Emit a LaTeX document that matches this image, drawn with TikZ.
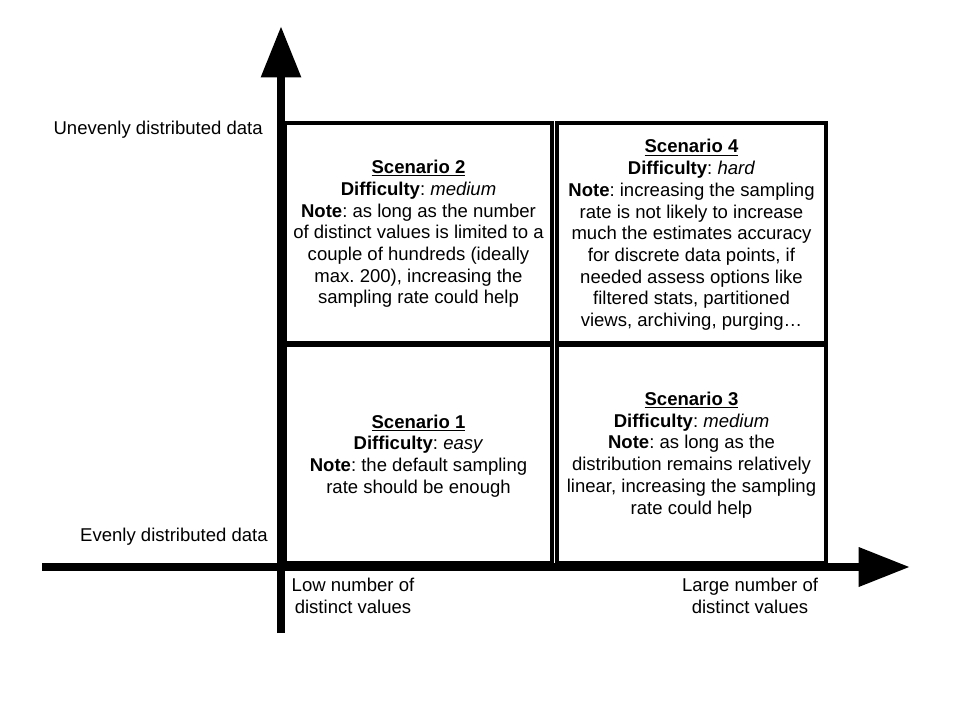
\documentclass[tikz,border=0pt]{standalone}
\usepackage{fontspec}
\setmainfont{Liberation Sans}
\usetikzlibrary{arrows.meta}
\frenchspacing
\begin{document}
\begin{tikzpicture}[x=0.75pt,y=-0.75pt,
  box/.style={draw=black,line width=3pt},
  axis/.style={line width=6.6pt,draw=black},
  txt/.style={align=center,inner sep=0pt,font={\fontsize{13.9pt}{16.3pt}\selectfont\frenchspacing}},
  lbl/.style={inner sep=0pt,font={\fontsize{13.9pt}{16.3pt}\selectfont\frenchspacing}}]
\useasboundingbox[fill=white] (0,0) rectangle (960,720);
% boxes
\draw[box] (285,123) rectangle (552,343);
\draw[box] (557,123) rectangle (826,343);
\draw[box] (285,345) rectangle (552,563);
\draw[box] (557,345) rectangle (826,563);
% axes
\coordinate (vbot) at (281,633);
\coordinate (vtop) at (281,26);
\coordinate (hleft) at (42,567);
\coordinate (hright) at (910,567);
\draw[axis,-{Triangle[length=38.5pt,width=28.5pt]}] (vbot) -- (vtop);
\draw[axis,-{Triangle[length=38.5pt,width=28pt]}] (hleft) -- (hright);
% scenario texts
\node[txt] (s2) at (418.5,234) {\underline{\textbf{Scenario 2}}\\\textbf{Difficulty}: \textit{medium}\\\textbf{Note}: as long as the number\\of distinct values is limited to a\\couple of hundreds (ideally\\max. 200), increasing the\\sampling rate could help};
\node[txt] (s4) at (691.5,235) {\underline{\textbf{Scenario 4}}\\\textbf{Difficulty}: \textit{hard}\\\textbf{Note}: increasing the sampling\\rate is not likely to increase\\much the estimates accuracy\\for discrete data points, if\\needed assess options like\\filtered stats, partitioned\\views, archiving, purging…};
\node[txt] (s1) at (418.5,456) {\underline{\textbf{Scenario 1}}\\\textbf{Difficulty}: \textit{easy}\\\textbf{Note}: the default sampling\\rate should be enough};
\node[txt] (s3) at (691.5,455) {\underline{\textbf{Scenario 3}}\\\textbf{Difficulty}: \textit{medium}\\\textbf{Note}: as long as the\\distribution remains relatively\\linear, increasing the sampling\\rate could help};
% axis labels
\node[lbl,anchor=base east] (uneven) at (263,135) {Unevenly distributed data};
\node[lbl,anchor=base east] (even) at (268,541) {Evenly distributed data};
\node[txt] (low) at (353,596) {Low number of\\distinct values};
\node[txt] (large) at (750,596) {Large number of\\distinct values};
\end{tikzpicture}
\end{document}
